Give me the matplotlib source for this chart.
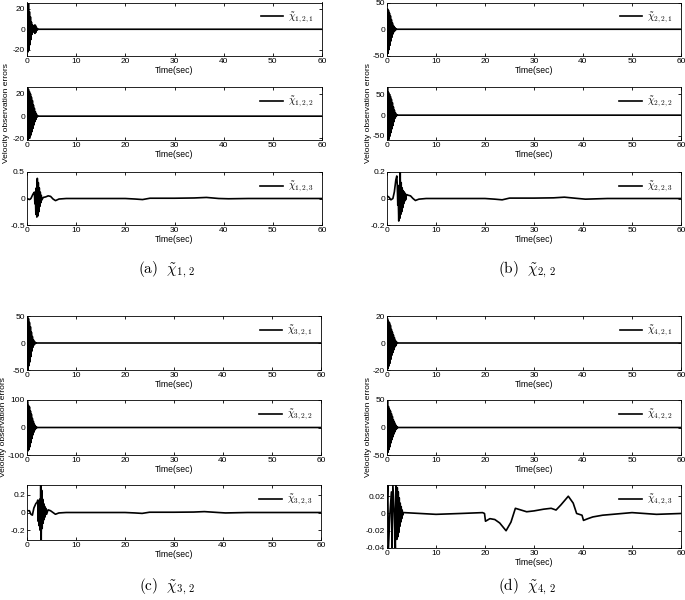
import numpy as np
import matplotlib
matplotlib.use('Agg')
import matplotlib.pyplot as plt
from matplotlib.ticker import FuncFormatter

plt.rcParams['font.family'] = ['Liberation Sans', 'DejaVu Sans']
plt.rcParams['mathtext.fontset'] = 'cm'
plt.rcParams['axes.unicode_minus'] = False

# ------------------ data
# common time grid for the start-up bursts (sec)
t_burst = [0.0, 0.1, 0.2, 0.3, 0.4, 0.5, 0.6, 0.7, 0.8, 0.9, 1.0, 1.1, 1.2,
           1.3, 1.4, 1.5, 1.6, 1.7, 1.8, 1.9, 2.0, 2.1, 2.2, 2.3, 2.4, 2.5]
t_tail = [3.0, 60.0]

a1 = [0, 25, -22, 25, -20, 17, -15, 12, -10, 7, -5, 4, -3,
      2, -2, 4, -4, 4, -3, 2, -1, 0.5, -0.3, 0.1, 0, 0]
a2 = [0, 26, -21, 24, -20, 22, -19, 20, -17, 17, -14, 14, -11,
      10, -8, 7, -5, 4, -3, 2, -1, 0.5, -0.2, 0, 0, 0]
b1 = [0, 38, -45, 35, -38, 30, -30, 25, -22, 18, -15, 12, -9,
      7, -5, 4, -3, 2, -1, 0.5, -0.2, 0, 0, 0, 0, 0]
b2 = [0, 68, -58, 55, -58, 50, -50, 45, -42, 38, -33, 30, -25,
      20, -16, 12, -8, 6, -4, 2, -1, 0.5, 0, 0, 0, 0]
c1 = [0, 50, -50, 45, -42, 38, -35, 30, -25, 20, -15, 12, -8,
      6, -4, 3, -2, 1, -0.5, 0.3, 0, 0, 0, 0, 0, 0]
c2 = [0, 95, -85, 80, -80, 75, -70, 60, -55, 48, -40, 33, -27,
      22, -17, 12, -9, 6, -4, 2, -1, 0.5, 0, 0, 0, 0]
d1 = [0, 18, -19, 16, -17, 15, -15, 13, -12, 10, -9, 8, -7,
      6, -5, 4, -3, 2, -2, 1, -0.5, 0.3, -0.1, 0, 0, 0]
d2 = [0, 48, -45, 38, -40, 33, -35, 30, -28, 25, -22, 20, -17,
      14, -12, 10, -8, 6, -4, 3, -2, 1, -0.5, 0, 0, 0]

# third components (slow parts + burst)
a3_t = [0, 0.5, 0.8, 1.2, 1.5, 1.6, 1.7, 1.8, 1.9, 2.0, 2.1, 2.2, 2.3, 2.4,
        2.5, 2.6, 2.7, 2.8, 2.9, 3.0, 3.3, 3.8, 4.3, 4.8, 5.3, 5.8, 6.5, 8,
        20, 22, 23.5, 25, 30, 34, 36.5, 39, 41, 45, 60]
a3_v = [0, -0.02, 0.0, 0.08, 0.12, -0.1, 0.1, -0.3, 0.2, -0.35, 0.38, -0.33,
        0.3, -0.25, 0.2, -0.15, 0.12, -0.08, 0.06, -0.03, 0.02, 0.03, 0.05,
        0.04, -0.01, -0.04, -0.01, 0, 0, -0.01, -0.02, 0.005, 0.005, 0.01,
        0.02, 0.0, -0.005, 0, 0]
b3_t = [0, 0.4, 0.8, 1.2, 1.5, 1.8, 2.0, 2.1, 2.2, 2.3, 2.4, 2.5, 2.6, 2.7,
        2.8, 2.9, 3.0, 3.1, 3.2, 3.3, 3.4, 3.5, 3.6, 3.7, 3.8, 4.0, 4.3, 4.8,
        5.3, 5.8, 6.5, 8, 20, 22, 23.5, 25, 30, 34, 36.2, 39, 40.5, 45, 60]
b3_v = [0.02, 0.01, -0.01, 0.0, 0.05, 0.14, 0.17, 0.1, -0.05, 0.0, -0.17,
        0.1, -0.15, 0.2, -0.12, 0.12, -0.1, 0.08, -0.07, 0.06, -0.04, 0.05,
        -0.02, 0.04, -0.01, 0.03, 0.025, 0.02, 0.0, -0.015, -0.005, 0, 0,
        -0.005, -0.01, 0.003, 0.003, 0.005, 0.01, 0, -0.005, 0, 0]
c3_t = [0, 0.5, 0.8, 1.1, 1.4, 1.8, 2.1, 2.2, 2.3, 2.4, 2.5, 2.6, 2.7, 2.8,
        2.9, 3.0, 3.1, 3.2, 3.3, 3.4, 3.5, 3.6, 3.7, 3.8, 4.0, 4.3, 4.8, 5.3,
        5.8, 6.5, 8, 20, 22, 23.5, 25, 30, 34, 36.2, 39, 40.5, 45, 60]
c3_v = [0.02, 0.02, -0.02, -0.03, 0.05, 0.1, 0.12, 0.14, -0.1, 0.12, -0.15,
        0.15, -0.2, 0.31, -0.31, 0.25, -0.18, 0.15, -0.12, 0.1, -0.08, 0.07,
        -0.05, 0.05, -0.02, 0.03, 0.02, 0.0, -0.02, -0.005, 0, 0, -0.005,
        -0.01, 0.003, 0.003, 0.005, 0.01, 0, -0.005, 0, 0]
d3_t = [0, 0.15, 0.3, 0.6, 0.9, 1.05, 1.2, 1.5, 1.7, 1.85, 2.0, 2.1, 2.2,
        2.3, 2.4, 2.5, 2.6, 2.7, 2.8, 2.9, 3.0, 3.1, 3.2, 3.3, 3.5, 10, 15,
        19.5, 19.9, 20.1, 21, 22, 23, 24.3, 25.3, 26.2, 28.5, 30, 32, 33.5,
        34.5, 35.5, 37.0, 38.0, 38.7, 39.8, 40.1, 41, 42, 44, 46, 50, 55, 60]
d3_v = [0.01, 0.033, -0.04, 0.0, 0.025, -0.04, 0.033, 0.0, -0.04, 0.033,
        -0.03, 0.03, -0.027, 0.025, -0.022, 0.018, -0.015, 0.012, -0.01,
        0.008, -0.006, 0.004, -0.002, 0.001, 0.001, -0.001, 0.0, 0.001, 0.0,
        -0.009, -0.006, -0.007, -0.011, -0.02, -0.01, 0.006, 0.002, 0.003,
        0.005, 0.006, 0.004, 0.01, 0.02, 0.012, 0.0, -0.002, -0.008, -0.006,
        -0.004, -0.002, -0.001, 0.001, -0.001, 0.0]

ylims = [[(-26, 26), (-21.5, 26.3), (-0.5, 0.5)],
         [(-50, 50), (-60, 68), (-0.2, 0.2)],
         [(-50, 50), (-100, 100), (-0.31, 0.31)],
         [(-20, 20), (-50, 50), (-0.04, 0.033)]]
yticks = [[[-20, 0, 20], [-20, 0, 20], [-0.5, 0, 0.5]],
          [[-50, 0, 50], [-50, 0, 50], [-0.2, 0, 0.2]],
          [[-50, 0, 50], [-100, 0, 100], [-0.2, 0, 0.2]],
          [[-20, 0, 20], [-50, 0, 50], [-0.04, -0.02, 0, 0.02]]]
series = [[(t_burst + t_tail, a1 + [0, 0]), (t_burst + t_tail, a2 + [0, 0]), (a3_t, a3_v)],
          [(t_burst + t_tail, b1 + [0, 0]), (t_burst + t_tail, b2 + [0, 0]), (b3_t, b3_v)],
          [(t_burst + t_tail, c1 + [0, 0]), (t_burst + t_tail, c2 + [0, 0]), (c3_t, c3_v)],
          [(t_burst + t_tail, d1 + [0, 0]), (t_burst + t_tail, d2 + [0, 0]), (d3_t, d3_v)]]
captions = ['(a)', '(b)', '(c)', '(d)']
xticks = [0, 10, 20, 30, 40, 50, 60]

# ------------------ layout in pixels (685 x 600)
W, H = 685.0, 600.0
cols = [(27, 322), (387, 681), (27, 321), (387, 681)]
rows = [[(2.5, 56), (87, 140), (172, 225)],
        [(2.5, 56), (87, 140), (172, 225)],
        [(316, 370), (400, 455), (485, 540)],
        [(316, 370), (400, 455), (485, 548)]]
cap_pos = [(167, 270), (527, 270), (167, 587), (527, 587)]
ylab_x = [7, 368, 3.5, 368]

fig = plt.figure(figsize=(6.85, 6.0), dpi=100)
fmt = FuncFormatter(lambda v, p: '%g' % v)

for p in range(4):
  x0, x1 = cols[p]
  for r in range(3):
    y0, y1 = rows[p][r]
    ax = fig.add_axes([x0 / W, 1 - y1 / H, (x1 - x0) / W, (y1 - y0) / H])
    t, v = series[p][r]
    ax.plot(t, v, color='black', lw=1.2,
            label=r'$\tilde{\chi}_{%d,2,%d}$' % (p + 1, r + 1))
    ax.set_xlim(0, 60)
    ax.set_ylim(*ylims[p][r])
    ax.set_xticks(xticks)
    ax.set_yticks(yticks[p][r])
    ax.yaxis.set_major_formatter(fmt)
    ax.tick_params(direction='in', top=True, right=True, labelsize=6.0,
                   length=2.5, width=0.6, pad=1.5)
    for s in ax.spines.values():
      s.set_linewidth(0.6)
    ax.set_xlabel('Time(sec)', fontsize=6.2, labelpad=0.5)
    ax.legend(loc='upper right', frameon=False, fontsize=7.5,
              handlelength=2.2, handletextpad=0.4, borderpad=0.5,
              borderaxespad=0.3)
  # y label centred on the middle axes
  ym = (rows[p][1][0] + rows[p][1][1]) / 2.0
  fig.text(ylab_x[p] / W, 1 - ym / H, 'Velocity observation errors',
           fontsize=6.0, rotation=90, ha='center', va='center')
  cx, cy = cap_pos[p]
  fig.text(cx / W, 1 - cy / H,
           r'$\mathrm{%s}\ \ \tilde{\chi}_{%d,\,2}$' % (captions[p], p + 1),
           fontsize=11, ha='center', va='center')

fig.savefig('out.png', dpi=100)
